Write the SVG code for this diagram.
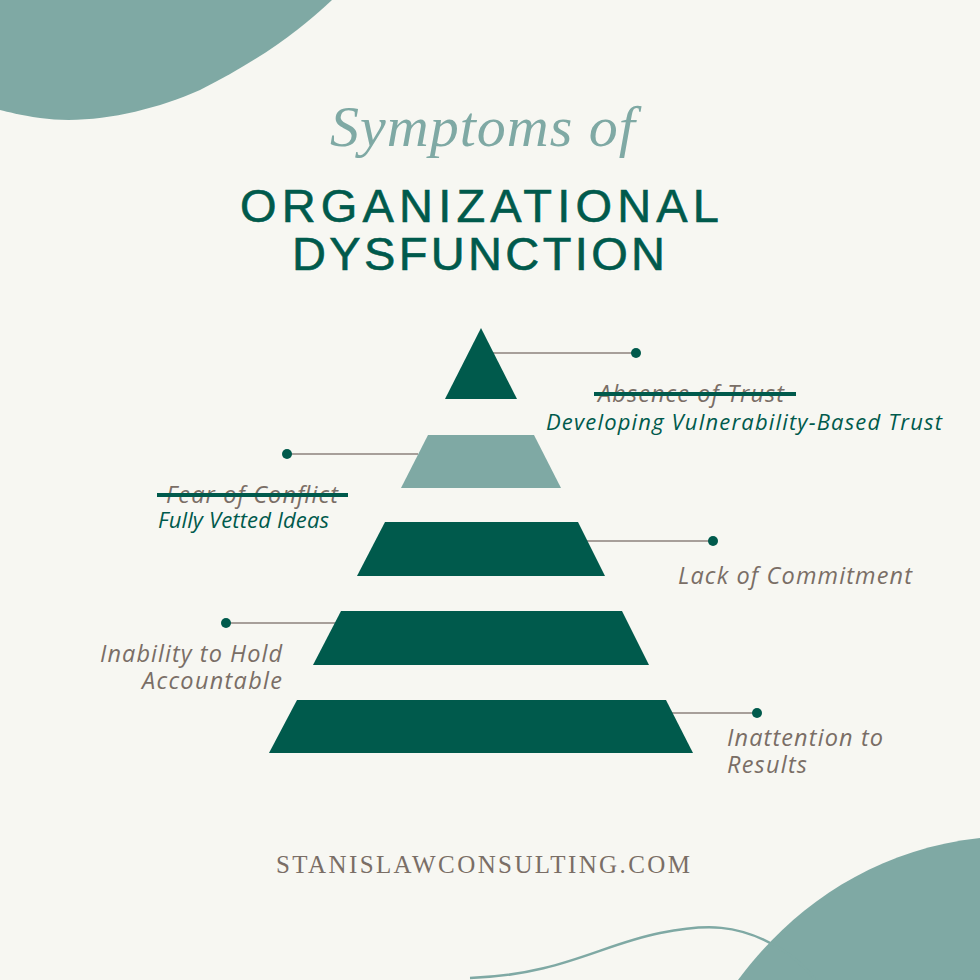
<svg xmlns="http://www.w3.org/2000/svg" width="980" height="980" viewBox="0 0 980 980">
<style>
.dk{fill:#005a4c}.lt{fill:#7fa9a4}
.ln{stroke:#8c827c;stroke-width:1.3}
.lbl{font-family:"Open Sans",sans-serif;font-style:italic;font-size:23.5px;fill:#7a6e66}
.new{font-family:"Open Sans",sans-serif;font-style:italic;font-size:22px;fill:#005a4c}
.st{stroke:#005a4c;stroke-width:4}
.ttl{font-family:"Liberation Sans",sans-serif;font-size:47px;fill:#005a4c;stroke:#005a4c;stroke-width:0.6;text-anchor:middle;letter-spacing:3px}
</style>
<rect width="980" height="980" fill="#f7f7f2"/>
<path class="lt" d="M0 0H332C300 30 260 60 200 90C150 112 90 125 40 118C20 115 8 112 0 110Z"/>
<path class="lt" d="M738 980C790 910 870 850 980 838V980Z"/>
<path d="M470 978C560 975 600 945 660 933C700 925 740 920 790 955C800 963 810 972 815 980" fill="none" stroke="#7fa9a4" stroke-width="2.5"/>
<text x="483" y="146" text-anchor="middle" font-family="Liberation Serif,serif" font-style="italic" font-size="58" fill="#7fa9a4" letter-spacing="1">Symptoms of</text>
<text class="ttl" x="481" y="222" textLength="482">ORGANIZATIONAL</text>
<text class="ttl" x="480" y="270" textLength="376">DYSFUNCTION</text>
<g id="connectors">
<line class="ln" x1="493" y1="353" x2="636" y2="353"/><circle class="dk" cx="636" cy="353" r="5"/>
<line class="ln" x1="287" y1="454" x2="418" y2="454"/><circle class="dk" cx="287" cy="454" r="5"/>
<line class="ln" x1="555" y1="541" x2="713" y2="541"/><circle class="dk" cx="713" cy="541" r="5"/>
<line class="ln" x1="226" y1="623" x2="380" y2="623"/><circle class="dk" cx="226" cy="623" r="5"/>
<line class="ln" x1="670" y1="713" x2="757" y2="713"/><circle class="dk" cx="757" cy="713" r="5"/>
</g>
<g id="tier1"><polygon class="dk" points="481,328 517,399 445,399"/>
<text class="lbl" x="598" y="402" textLength="186">Absence of Trust</text><line class="st" x1="594" y1="394" x2="796" y2="394"/>
<text class="new" x="546" y="430" textLength="396">Developing Vulnerability-Based Trust</text></g>
<g id="tier2"><polygon class="lt" points="428,435 534,435 561,488 401,488"/>
<text class="lbl" x="166" y="503" textLength="172">Fear of Conflict</text><line class="st" x1="157" y1="495" x2="348" y2="495"/>
<text class="new" x="158" y="528" textLength="171">Fully Vetted Ideas</text></g>
<g id="tier3"><polygon class="dk" points="385,522 578,522 605,576 357,576"/>
<text class="lbl" x="678" y="584" textLength="234">Lack of Commitment</text></g>
<g id="tier4"><polygon class="dk" points="341,611 622,611 649,665 313,665"/>
<text class="lbl" x="100" y="662" textLength="182">Inability to Hold</text>
<text class="lbl" x="142" y="689" textLength="140">Accountable</text></g>
<g id="tier5"><polygon class="dk" points="297,700 666,700 693,753 269,753"/>
<text class="lbl" x="727" y="746" textLength="156">Inattention to</text>
<text class="lbl" x="727" y="773" textLength="80">Results</text></g>
<text x="483" y="873" text-anchor="middle" font-family="Liberation Serif,serif" font-size="25" fill="#7a6e66" textLength="414">STANISLAWCONSULTING.COM</text>
</svg>
